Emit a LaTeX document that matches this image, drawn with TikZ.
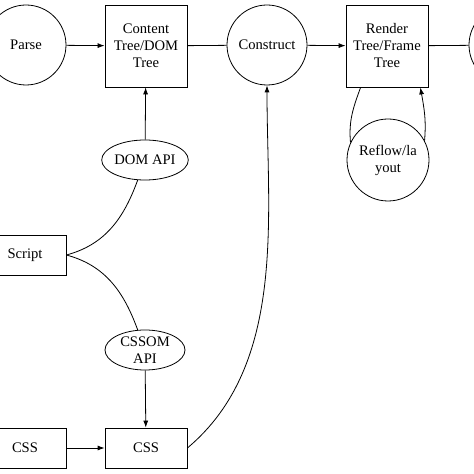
\documentclass[tikz,border=0pt]{standalone}
\usepackage{fontspec}
\setmainfont{Liberation Serif}
\usetikzlibrary{shapes.geometric,arrows.meta}

\begin{document}
\begin{tikzpicture}[x=1pt,y=1pt,line width=0.8pt,
		every node/.style={font=\fontsize{14.6}{17}\selectfont,align=center,inner sep=0pt},
		round/.style={draw,circle,minimum size=80pt},
		square/.style={draw,rectangle,minimum width=82pt,minimum height=82pt},
		flat/.style={draw,rectangle,minimum width=82pt,minimum height=40pt},
		api/.style={draw,ellipse,minimum width=80pt,minimum height=40pt},
		arr/.style={-{Latex[length=7pt,width=5pt]}}]
		\useasboundingbox (0,0) rectangle (474,474);
		% top row
		\node[round] (parse) at (26,429) {Parse};
		\node[square] (content) at (146,428) {Content\\Tree/DOM\\Tree};
		\node[round] (construct) at (267,429) {Construct};
		\node[square] (render) at (387,428) {Render\\Tree/Frame\\Tree};
		\node[round] (paint) at (509,429) {};
		\node[round,minimum size=82pt] (reflow) at (388,314) {Reflow/la\\yout};
		% left side
		\node[api] (domapi) at (145,314) {DOM API};
		\node[flat] (script) at (25,219) {Script};
		\node[api] (cssomapi) at (145,124) {CSSOM\\API};
		\node[flat] (cssa) at (25,26) {CSS};
		\node[flat] (cssb) at (146,26) {CSS};
		% connectors
		\draw[arr] (parse) -- (content);
		\draw (content) -- (construct);
		\draw[arr] (construct) -- (render);
		\draw (render) -- (paint);
		\path (render.south west) ++(15,0) coordinate (rl);
		\draw (rl) to[out=-110,in=95] (reflow.155);
		\path (render.south east) ++(-8,0) coordinate (rr);
		\draw[arr] (reflow.28) to[out=85,in=-80] (rr);
		\draw[arr] (domapi) -- (content);
		\draw (script.east) to[out=15,in=-110] (domapi.250);
		\draw (script.east) to[out=-15,in=110] (cssomapi.110);
		\draw[arr] (cssomapi) -- (cssb);
		\draw[arr] (cssa) -- (cssb);
		\draw[arr] (cssb.east) to[out=40,in=-90,looseness=0.9] (construct.south);
	\end{tikzpicture}
\end{document}
